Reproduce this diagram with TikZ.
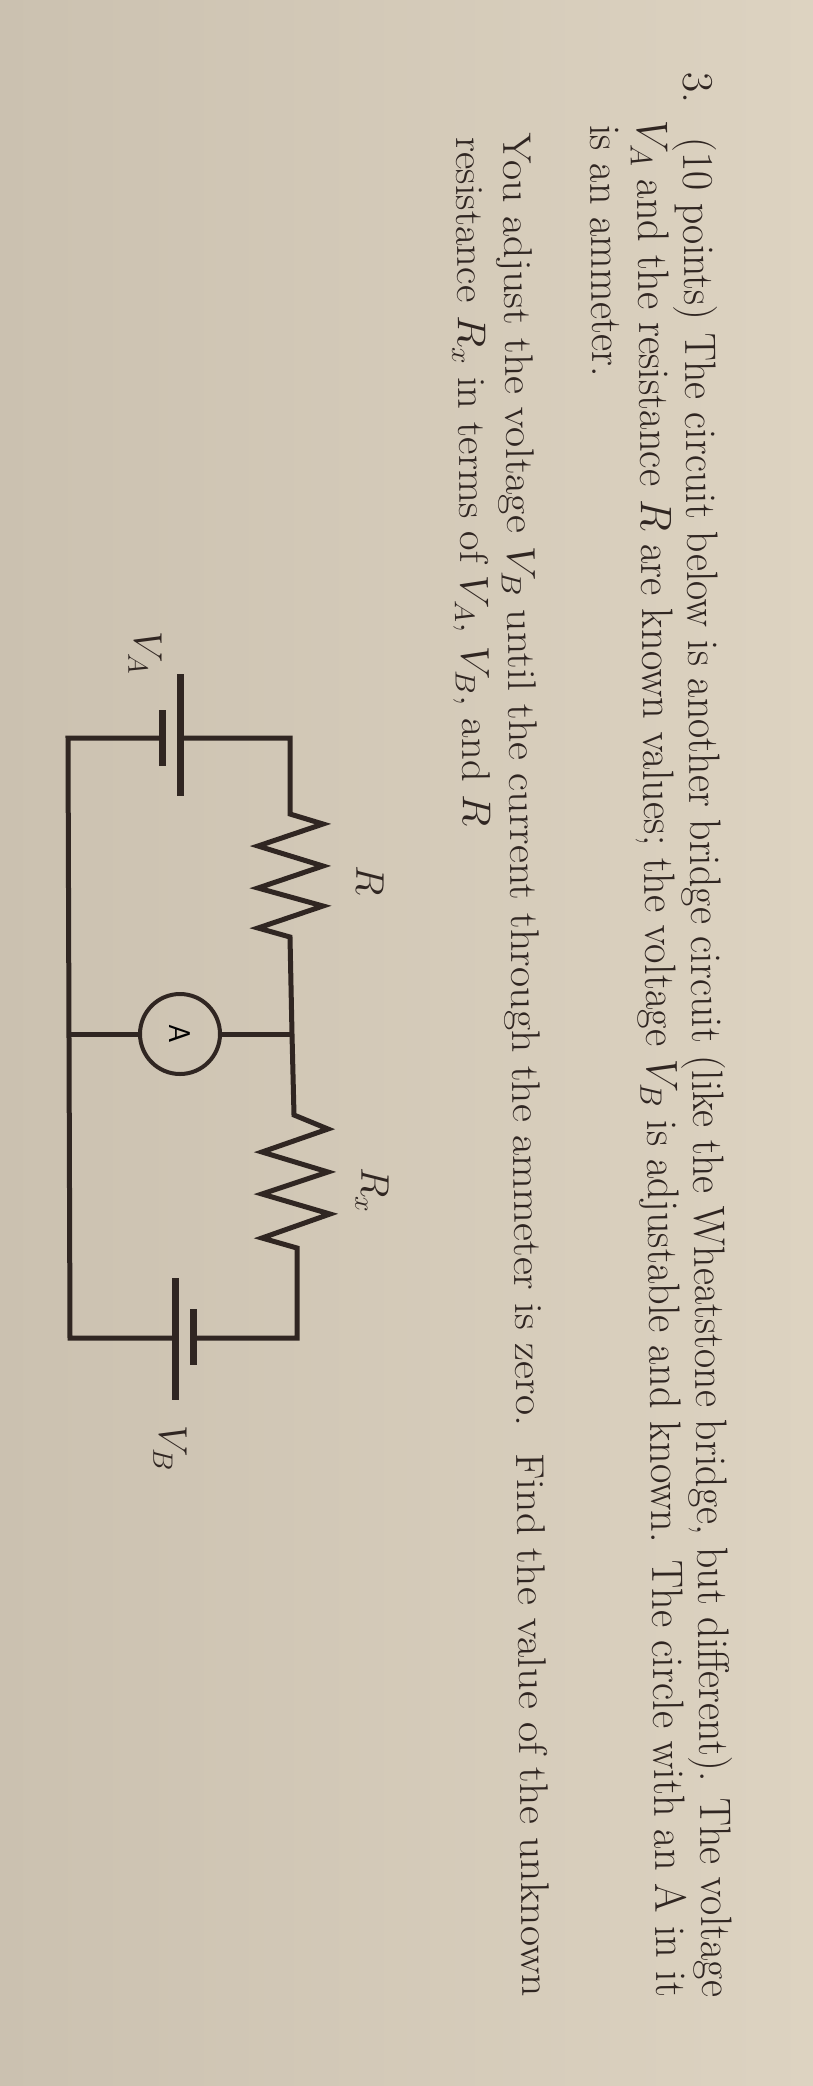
\RequirePackage{fix-cm}
\documentclass[tikz,border=0pt]{standalone}
\usepackage{graphicx}
\definecolor{paper}{RGB}{221,211,193}
\definecolor{paperdark}{RGB}{203,193,176}
\definecolor{ink}{RGB}{48,38,34}
\begin{document}
\begin{tikzpicture}[x=1pt,y=-1pt,
  txt/.style={anchor=base west,inner sep=0pt,rotate=-89.4,text=ink},
  wire/.style={draw=ink,line width=5pt,line join=miter},
  plate/.style={draw=ink,line width=7pt},
  lbl/.style={inner sep=0pt,rotate=-90,text=ink,font=\fontsize{40}{44}\selectfont}]
\shade[left color=paperdark,right color=paper] (0,0) rectangle (813,2086);
\useasboundingbox (0,0) rectangle (813,2086);
% paragraph 1
\begin{scope}[every node/.append style={font=\fontsize{44}{50}\selectfont}]
\node[txt] (n3) at (683,72) {3.};
\node[txt] (l1) at (683,137) {\resizebox{1860pt}{\height}{(10 points) The circuit below is another bridge circuit (like the Wheatstone bridge, but different). The voltage}};
\node[txt] (l2) at (637,120) {\resizebox{1877pt}{\height}{$V_A$ and the resistance $R$ are known values; the voltage $V_B$ is adjustable and known. The circle with an A in it}};
\node[txt] (l3) at (590,125) {\resizebox{252pt}{\height}{is an ammeter.}};
\end{scope}
\begin{scope}[every node/.append style={font=\fontsize{40}{46}\selectfont}]
\node[txt] (m1) at (503,133) {\resizebox{1864pt}{\height}{You adjust the voltage $V_B$ until the current through the ammeter is zero.\ \ Find the value of the unknown}};
\node[txt] (m2) at (456,137) {\resizebox{690pt}{\height}{resistance $R_x$ in terms of $V_A$, $V_B$, and $R$}};
\end{scope}
% circuit coordinates
\coordinate (tl) at (68,738);
\coordinate (bl) at (70,1338);
\coordinate (vaS) at (162,738);
\coordinate (vaL) at (180,738);
\coordinate (tr) at (290,738);
\coordinate (r1a) at (290,814);
\coordinate (r1b) at (290,937);
\coordinate (j) at (292,1034);
\coordinate (jl) at (69,1034);
\coordinate (r2a) at (294,1115);
\coordinate (r2b) at (297,1248);
\coordinate (br) at (297,1338);
\coordinate (vbS) at (193,1338);
\coordinate (vbL) at (175,1338);
\node[draw=ink,line width=4pt,circle,minimum size=80pt,inner sep=0pt,font=\fontsize{30}{30}\selectfont\sffamily] (amm) at (180,1034) {\rotatebox{-90}{A}};
% wires
\draw[wire] (vaS) -- (tl) -- (bl) -- (vbL);
\draw[wire] (vaL) -- (tr) -- (r1a)
  -- (323,824) -- (258,846) -- (323,866) -- (258,888) -- (323,906) -- (258,928) -- (r1b)
  -- (j) -- (r2a)
  -- (328,1129) -- (262,1152) -- (328,1172) -- (262,1194) -- (330,1214) -- (262,1238) -- (r2b)
  -- (br) -- (vbS);
\draw[wire] (jl) -- (amm.west);
\draw[wire] (amm.east) -- (j);
% batteries
\draw[plate] (162,710) -- (162,766);
\draw[plate] (180,674) -- (180,796);
\draw[plate] (193,1309) -- (193,1365);
\draw[plate] (175,1278) -- (175,1400);
% labels
\node[lbl] (va) at (145,653) {$V_A$};
\node[lbl] (vb) at (170,1448) {$V_B$};
\node[lbl] (rl) at (370,881) {$R$};
\node[lbl] (rxl) at (372,1190) {$R_x$};
\end{tikzpicture}
\end{document}
